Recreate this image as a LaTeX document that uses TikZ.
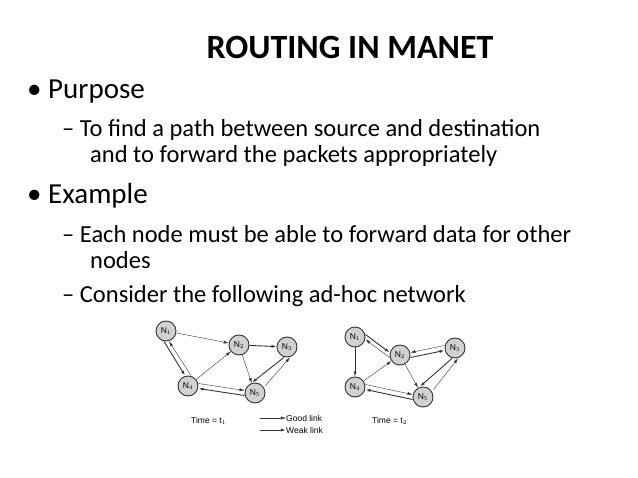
\documentclass[tikz,border=0pt]{standalone}
\usepackage{fontspec}
\setmainfont{Carlito}
\newfontfamily\lab{Liberation Sans}
\usetikzlibrary{arrows.meta}
\begin{document}
\begin{tikzpicture}[x=1pt,y=-1pt,
 txt/.style={anchor=west,inner sep=0pt,font=\fontsize{24.5}{28}\selectfont},
 bul/.style={anchor=west,inner sep=0pt,font=\fontsize{29}{32}\selectfont},
 nd/.style={circle,draw=black!80,fill=black!18,line width=0.9pt,minimum size=20pt,inner sep=0pt,font=\lab\fontsize{8.5}{9}\selectfont},
 good/.style={-{Latex[length=5pt,width=3pt]},line width=0.4pt,black!80},
 weak/.style={-{Latex[length=5pt,width=3pt]},line width=0.9pt,black!80},
 lbl/.style={inner sep=0pt,font=\lab\fontsize{8.5}{9}\selectfont,anchor=west}]
\useasboundingbox (0,0) rectangle (638,478);
\node[inner sep=0pt,font=\bfseries\fontsize{34}{38}\selectfont] (title) at (350,47) {ROUTING IN MANET};
\node[bul] (b1) at (27,92) {• Purpose};
\node[txt] (s1) at (62,130) {– To find a path between source and destination};
\node[txt] (s2) at (90,156) {and to forward the packets appropriately};
\node[bul] (b2) at (27,196) {• Example};
\node[txt] (s3) at (62,234) {– Each node must be able to forward data for other};
\node[txt] (s4) at (90,260) {nodes};
\node[txt] (s5) at (62,296) {– Consider the following ad-hoc network};
% left graph
\node[nd] (a1) at (166,331) {N$_1$};
\node[nd] (a2) at (239,345) {N$_2$};
\node[nd] (a3) at (287,347) {N$_3$};
\node[nd] (a4) at (188,386) {N$_4$};
\node[nd] (a5) at (255,393) {N$_5$};
\draw[good] (a1) -- (a2);
\draw[weak] ([xshift=-2pt]a1.south) -- ([xshift=-3pt]a4.north);
\draw[good] ([xshift=3pt]a4.north) -- ([xshift=3pt]a1.south);
\draw[good] (a4) -- (a2);
\draw[weak] (a2) -- (a3);
\draw[good] (a2) -- (a5);
\draw[weak] ([xshift=-3pt]a3.south) -- ([xshift=-3pt]a5.north);
\draw[good] ([xshift=3pt]a5.north east) -- ([xshift=3pt]a3.south);
\draw[weak] ([yshift=-2.5pt]a5.west) -- ([yshift=-2.5pt]a4.east);
\draw[good] ([yshift=2.5pt]a4.east) -- ([yshift=2.5pt]a5.west);
% right graph
\node[nd] (c1) at (355,337) {N$_1$};
\node[nd] (c2) at (400,355) {N$_2$};
\node[nd] (c3) at (455,348) {N$_3$};
\node[nd] (c4) at (355,387) {N$_4$};
\node[nd] (c5) at (423,397) {N$_5$};
\draw[good] ([yshift=-2.5pt]c2.west) -- ([yshift=-2.5pt]c1.east);
\draw[weak] ([yshift=2.5pt]c1.east) -- ([yshift=2.5pt]c2.west);
\draw[good] (c1) -- (c4);
\draw[good] (c4) -- (c2);
\draw[weak] ([yshift=-2.5pt]c2.east) -- ([yshift=-2.5pt]c3.west);
\draw[good] ([yshift=2.5pt]c3.west) -- ([yshift=2.5pt]c2.east);
\draw[good] (c2) -- (c5);
\draw[weak] ([xshift=-3pt]c3.south) -- ([xshift=-3pt]c5.north);
\draw[good] ([xshift=3pt]c5.north east) -- ([xshift=3pt]c3.south);
\draw[weak] ([yshift=-2.5pt]c5.west) -- ([yshift=-2.5pt]c4.east);
\draw[good] ([yshift=2.5pt]c4.east) -- ([yshift=2.5pt]c5.west);
% legend
\node[lbl] (t1) at (191,421) {Time = t$_1$};
\node[lbl] (t2) at (372,421) {Time = t$_2$};
\node[lbl] (gl) at (286,418) {Good link};
\node[lbl] (wl) at (286,430) {Weak link};
\coordinate (g0) at (260,418);
\coordinate (w0) at (260,430);
\draw[good] (g0) -- (gl.west);
\draw[weak] (w0) -- (wl.west);
\end{tikzpicture}
\end{document}
